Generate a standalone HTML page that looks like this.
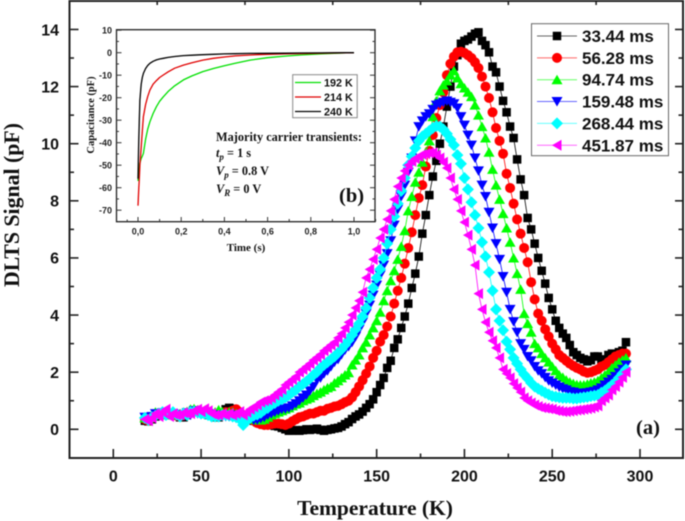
<!DOCTYPE html>
<html>
<head>
<meta charset="utf-8">
<title>DLTS Signal chart</title>
<style>
html,body{margin:0;padding:0;background:#fff;width:685px;height:521px;overflow:hidden}
svg{display:block;filter:blur(0.4px)}
.tick{font:bold 16px "Liberation Sans",sans-serif;fill:#111}
.itick{font:bold 9px "Liberation Sans",sans-serif;fill:#222}
.serif{font-family:"Liberation Serif",serif;font-weight:bold;fill:#111}
.leg{font:bold 17px "Liberation Sans",sans-serif;fill:#111}
.ileg{font:bold 10.8px "Liberation Sans",sans-serif;fill:#111}
</style>
</head>
<body>
<svg id="chart" xmlns="http://www.w3.org/2000/svg" width="685" height="521" viewBox="0 0 685 521">
  <g id="series-layer"></g>
  <rect x="69.5" y="1" width="613.5" height="457" fill="none" stroke="#222" stroke-width="2"/>
  <g id="axes-layer"></g>
  <text class="serif" font-size="21.8" transform="translate(19,205) rotate(-90)" text-anchor="middle">DLTS Signal (pF)</text>
  <text class="serif" font-size="21.5" x="375" y="515" text-anchor="middle">Temperature (K)</text>
  <text class="serif" font-size="20.5" x="636" y="434">(a)</text>

  <g id="legend">
    <rect x="531.5" y="23.7" width="137" height="132" fill="#fff" stroke="#666" stroke-width="1"/>
  </g>

  <g id="inset">
    <rect x="116.5" y="29.7" width="258.5" height="192" fill="none" stroke="#222" stroke-width="1.3"/>
    <g id="inset-axes"></g>
    <g id="inset-lines"></g>
    <text class="serif" font-size="10.5" transform="translate(94,115) rotate(-90)" text-anchor="middle" fill="#222">Capacitance (pF)</text>
    <text class="serif" font-size="11" x="246" y="251" text-anchor="middle">Time (s)</text>
    <rect x="292.7" y="74.7" width="64.5" height="43" fill="#fff" stroke="#888" stroke-width="1"/>
    <g id="inset-legend"></g>
    <text class="serif" font-size="12.3" x="216" y="141">Majority carrier transients:</text>
    <text class="serif" font-size="12.3" x="216" y="157"><tspan font-style="italic">t</tspan><tspan font-style="italic" font-size="9" dy="3">p</tspan><tspan dy="-3"> = 1 s</tspan></text>
    <text class="serif" font-size="12.3" x="216" y="175"><tspan font-style="italic">V</tspan><tspan font-style="italic" font-size="9" dy="3">p</tspan><tspan dy="-3"> = 0.8 V</tspan></text>
    <text class="serif" font-size="12.3" x="216" y="193"><tspan font-style="italic">V</tspan><tspan font-style="italic" font-size="9" dy="3">R</tspan><tspan dy="-3"> = 0 V</tspan></text>
    <text class="serif" font-size="20.5" x="339" y="202">(b)</text>
  </g>
</svg>
<script>
const temperatures = [
18,20,22,24,26,28,30,32,34,36,
38,40,42,44,46,48,50,52,54,56,
58,60,62,64,66,68,70,72,74,76,
78,80,82,84,86,88,90,92,94,96,
98,100,102,104,106,108,110,112,114,116,
118,120,122,124,126,128,130,132,134,136,
138,140,142,144,146,148,150,152,154,156,
158,160,162,164,166,168,170,172,174,176,
178,180,182,184,186,188,190,192,194,196,
198,200,202,204,206,208,210,212,214,216,
218,220,222,224,226,228,230,232,234,236,
238,240,242,244,246,248,250,252,254,256,
258,260,262,264,266,268,270,272,274,276,
278,280,282,284,286,288,290,292];

const signal33 = [
.3,.28,.35,.45,.5,.52,.55,.5,.52,.5,
.42,.42,.5,.58,.6,.62,.6,.55,.5,.48,
.42,.42,.55,.7,.75,.72,.62,.55,.45,.42,
.38,.3,.25,.2,.2,.15,.15,.12,.1,.05,
0,-.05,-.05,-.03,-.05,-.03,0,-.02,0,.02,
-.02,-.05,-.02,0,.03,.05,.1,.18,.25,.36,
.45,.52,.62,.75,.88,1.05,1.3,1.55,1.8,2.15,
2.4,2.85,3.15,3.55,3.95,4.4,4.95,5.45,6.05,6.85,
7.5,8.2,8.85,9.4,10,10.6,11.3,12,12.7,13.1,
13.5,13.6,13.65,13.75,13.85,13.9,13.6,13.45,13.2,12.7,
12.5,12,11.5,11.1,10.6,10.2,9.45,8.75,8.2,7.4,
7,6.5,6,5.55,5.1,4.6,4.2,3.8,3.55,3.35,
3.2,2.95,2.7,2.6,2.5,2.45,2.38,2.42,2.55,2.55,
2.45,2.4,2.6,2.65,2.6,2.7,2.75,3.05];

const signal56 = [
.35,.3,.4,.5,.52,.55,.5,.55,.5,.48,
.45,.5,.55,.58,.65,.62,.6,.55,.55,.5,
.48,.5,.55,.6,.6,.65,.7,.6,.5,.45,
.38,.3,.22,.18,.15,.15,.18,.2,.2,.18,
.15,.2,.28,.35,.42,.45,.5,.55,.55,.6,
.65,.65,.72,.75,.8,.82,.88,.95,1,1.12,
1.3,1.5,1.72,1.95,2.2,2.5,2.75,3.07,3.3,3.6,
3.95,4.4,4.85,5.3,5.8,6.35,6.9,7.5,8.1,8.55,
9.2,9.75,10.3,10.9,11.35,11.8,12.4,12.8,13.05,13.2,
13.22,13.18,13.1,13,12.85,12.65,12.35,12,11.6,11.1,
10.55,10.1,9.65,8.95,8.45,7.9,7.35,6.85,6.35,5.85,
5.15,4.55,4.05,3.8,3.5,3.25,3,2.8,2.6,2.5,
2.4,2.3,2.22,2.15,2.1,2.02,1.98,2,2.05,2.1,
2.2,2.25,2.35,2.45,2.55,2.6,2.65,2.65];

const signal94 = [
.4,.38,.5,.6,.55,.62,.55,.5,.6,.55,
.55,.6,.62,.7,.72,.68,.62,.6,.62,.55,
.6,.68,.62,.58,.6,.6,.55,.5,.48,.45,
.4,.35,.33,.32,.35,.42,.5,.55,.6,.65,
.7,.75,.82,.88,.92,1,1.05,1.1,1.18,1.25,
1.3,1.38,1.45,1.5,1.62,1.7,1.8,1.9,1.98,2.25,
2.42,2.6,2.85,3.05,3.3,3.55,3.8,4.1,4.5,4.85,
5.2,5.55,5.95,6.4,6.95,7.65,8.15,8.65,9,9.35,
9.7,10.1,10.95,11.5,11.85,12.05,12.2,12.4,12.55,12.3,
12.1,11.95,11.8,11.65,11.35,11,10.6,10.2,9.7,9.1,
8.55,8.05,7.55,7.05,6.55,6,5.45,4.9,4.05,3.7,
3.4,3,2.85,2.65,2.5,2.35,2.2,2.05,1.9,1.82,
1.72,1.65,1.6,1.56,1.55,1.55,1.58,1.62,1.65,1.7,
1.8,1.9,2,2.15,2.25,2.35,2.42,2.5];

const signal159 = [
.42,.35,.45,.55,.5,.58,.55,.5,.55,.52,
.5,.52,.58,.5,.65,.55,.6,.55,.55,.5,
.45,.5,.48,.45,.45,.5,.45,.45,.42,.4,
.35,.32,.33,.38,.42,.5,.55,.6,.65,.7,
.72,.75,.82,.9,1,1.1,1.2,1.35,1.5,1.73,
1.8,1.95,2.05,2.2,2.35,2.45,2.62,2.78,2.9,3.05,
3.25,3.5,3.75,4.05,4.35,4.7,5.05,5.4,5.75,6.15,
6.6,7.15,7.7,8.15,8.55,9,9.5,10.1,10.6,10.8,
10.95,11.05,11.2,11.35,11.4,11.45,11.5,11.45,11.4,11.25,
10.95,10.65,10.3,9.95,9.5,9.05,8.55,8.15,7.6,7.05,
6.5,5.95,5.35,4.8,4.2,3.77,3.4,3,2.8,2.55,
2.4,2.2,2.05,1.95,1.82,1.7,1.62,1.55,1.48,1.42,
1.38,1.32,1.3,1.27,1.27,1.27,1.28,1.3,1.33,1.38,
1.45,1.55,1.65,1.75,1.85,1.98,2.1,2.25];

const signal268 = [
.4,.32,.42,.48,.55,.6,.5,.55,.6,.52,
.45,.55,.5,.6,.62,.6,.55,.55,.5,.45,
.45,.45,.5,.5,.48,.45,.42,.35,.15,.3,
.4,.48,.52,.58,.68,.75,.85,.92,1,1.05,
1.12,1.2,1.3,1.38,1.5,1.58,1.68,1.78,1.9,2,
2.15,2.25,2.35,2.45,2.55,2.68,2.8,2.95,3.12,3.3,
3.5,3.7,3.95,4.25,4.6,4.95,5.3,5.6,6,6.5,
7,7.45,7.9,8.35,8.8,9.25,9.55,9.85,10.1,10.25,
10.35,10.45,10.55,10.62,10.6,10.5,10.35,10.15,9.95,9.6,
9.3,8.8,8.4,7.95,7.5,7.05,6.55,6.05,5.5,4.85,
4.2,3.8,3.47,3.07,2.8,2.5,2.3,2.1,1.92,1.78,
1.62,1.5,1.42,1.35,1.28,1.22,1.16,1.14,1.12,1.1,
1.1,1.1,1.08,1.08,1.1,1.12,1.13,1.16,1.18,1.2,
1.28,1.35,1.45,1.55,1.65,1.8,1.95,2.1];

const signal451 = [
.35,.3,.4,.55,.45,.6,.7,.45,.55,.5,
.5,.58,.55,.55,.65,.7,.62,.72,.65,.55,
.5,.5,.55,.5,.55,.5,.55,.62,.5,.6,
.7,.78,.85,.95,1,1.03,1.1,1.2,1.3,1.4,
1.55,1.65,1.75,1.85,2,2.1,2.2,2.3,2.42,2.52,
2.62,2.75,2.85,2.95,3.05,3.2,3.35,3.55,3.75,4,
4.25,4.5,4.8,5.3,5.6,5.95,6.3,6.7,7,7.35,
7.65,8.05,8.5,8.8,9.05,9.25,9.38,9.48,9.55,9.62,
9.65,9.68,9.68,9.6,9.5,9.35,9.15,8.8,8.4,8.05,
7.65,7.25,6.8,6.3,5.75,4.75,4.2,3.75,3.4,3.1,
2.85,2.5,2.1,1.95,1.8,1.6,1.45,1.3,1.1,1,
.92,.85,.8,.76,.74,.72,.7,.66,.64,.62,
.62,.63,.65,.67,.68,.7,.72,.74,.78,.82,
1,1.1,1.2,1.38,1.5,1.65,1.82,2];

const seriesLabels = ["33.44 ms","56.28 ms","94.74 ms","159.48 ms","268.44 ms","451.87 ms"];
const xTickLabels = [0,50,100,150,200,250,300];
const yTickLabels = [0,2,4,6,8,10,12,14];

const insetTimes = [0,.003,.006,.009,.015,.02,.025,.035,.045,.055,.07,.085,.1,.117,.14,.17,.21,.25,.3,.349,.4,.45,.519,.6,.68,.75,.85,.965,1];
const inset192 = [-57,-54,-51,-49,-47,-46,-44.7,-38.5,-34,-30.7,-27,-24,-21.6,-19.6,-17.2,-14.7,-12.1,-10.3,-8.4,-7,-5.8,-4.7,-3.3,-2.2,-1.5,-1,-.5,-.1,0];
const inset214 = [-68,-62,-56,-50,-42,-35,-28.4,-23,-19.5,-16.6,-14,-12.4,-11,-9.9,-8.5,-6.9,-5.5,-4.5,-3.3,-2.5,-1.9,-1.4,-1,-.7,-.5,-.4,-.2,-.05,0];
const inset240 = [-56,-42,-30,-21,-14,-11,-9.2,-7,-5.7,-4.7,-3.8,-3.2,-2.8,-2.5,-2.1,-1.7,-1.3,-1.1,-.9,-.7,-.55,-.45,-.3,-.25,-.2,-.15,-.1,0,0];
const insetLabels = ["192 K","214 K","240 K"];
const insetXTicks = ["0,0","0,2","0,4","0,6","0,8","1,0"];
const insetYTicks = [10,0,-10,-20,-30,-40,-50,-60,-70];

const NS = "http://www.w3.org/2000/svg";
const X = t => 113.3 + t * 1.7557;
const Y = v => 429.3 - v * 28.56;
const IX = t => 138 + t * 216;
const IY = v => 52.7 - v * 2.25;

function mk(tag, attrs, parent) {
  const e = document.createElementNS(NS, tag);
  for (const k in attrs) e.setAttribute(k, attrs[k]);
  parent.appendChild(e);
  return e;
}

function drawMarker(kind, cx, cy, s, color, parent) {
  let e;
  if (kind === "square") {
    e = mk("rect", {x: cx - s * .85, y: cy - s * .85, width: s * 1.7, height: s * 1.7, fill: color}, parent);
  } else if (kind === "circle") {
    e = mk("circle", {cx: cx, cy: cy, r: s, fill: color}, parent);
  } else if (kind === "up") {
    e = mk("polygon", {points: [cx, cy - s, cx + s * 1.1, cy + s * .9, cx - s * 1.1, cy + s * .9].join(","), fill: color}, parent);
  } else if (kind === "down") {
    e = mk("polygon", {points: [cx, cy + s, cx + s * 1.1, cy - s * .9, cx - s * 1.1, cy - s * .9].join(","), fill: color}, parent);
  } else if (kind === "diamond") {
    e = mk("polygon", {points: [cx, cy - s * 1.2, cx + s * 1.2, cy, cx, cy + s * 1.2, cx - s * 1.2, cy].join(","), fill: color}, parent);
  } else {
    e = mk("polygon", {points: [cx - s, cy, cx + s * .9, cy - s * 1.1, cx + s * .9, cy + s * 1.1].join(","), fill: color}, parent);
  }
  return e;
}

const seriesValues = [signal33, signal56, signal94, signal159, signal268, signal451];
const seriesColors = ["#000000", "#ff0000", "#00ff00", "#0000ff", "#00ffff", "#ff00ff"];
const seriesKinds = ["square", "circle", "up", "down", "diamond", "left"];

const seriesLayer = document.getElementById("series-layer");
seriesValues.forEach((vals, i) => {
  const g = mk("g", {}, seriesLayer);
  
  
  const line = mk("polyline", {
    points: vals.map((v, j) => X(temperatures[j]).toFixed(1) + "," + Y(v).toFixed(1)).join(" "),
    fill: "none", stroke: seriesColors[i], "stroke-width": "0.8"
  }, g);
  
  
  vals.forEach((v, j) => {
    const m = drawMarker(seriesKinds[i], X(temperatures[j]), Y(v), 5, seriesColors[i], g);
    
    
  });
});

const axes = document.getElementById("axes-layer");
function tick(x1, y1, x2, y2, parent, w, col) {
  const l = mk("line", {x1, y1, x2, y2, stroke: col || "#222", "stroke-width": w || 1.6}, parent);
  
  
}
for (let t = -25; t <= 325; t += 25) {
  const major = t % 50 === 0;
  if (t > -25 && t < 325) {
    tick(X(t), 458, X(t), major ? 449 : 453.5, axes);
    if (!major) tick(X(t), 1, X(t), 5, axes);
  }
}
for (let v = 0; v <= 14; v++) {
  const major = v % 2 === 0;
  tick(69.5, Y(v), major ? 78.5 : 74, Y(v), axes);
  tick(683, Y(v), major ? 675 : 678.5, Y(v), axes);
}
xTickLabels.forEach(t => {
  const e = mk("text", {x: X(t), y: 481.5, class: "tick", "text-anchor": "middle"}, axes);
  e.textContent = t;
  
  
});
yTickLabels.forEach(v => {
  const e = mk("text", {x: 59, y: Y(v) + 5.8, class: "tick", "text-anchor": "end"}, axes);
  e.textContent = v;
  
  
});

const legend = document.getElementById("legend");
seriesLabels.forEach((lab, i) => {
  const yy = 36 + i * 21.85;
  const l = mk("line", {x1: 537, y1: yy, x2: 577, y2: yy, stroke: seriesColors[i], "stroke-width": 1, opacity: .6}, legend);
  
  
  const m = drawMarker(seriesKinds[i], 557, yy, 5, seriesColors[i], legend);
  
  
  const t = mk("text", {x: 582, y: yy + 6, class: "leg"}, legend);
  t.textContent = lab;
  
  
});

const insetAxes = document.getElementById("inset-axes");
for (let i = 0; i <= 16; i++) {
  const v = 10 - i * 5;
  const major = i % 2 === 0;
  tick(116.5, IY(v), major ? 121.5 : 119, IY(v), insetAxes, 1, "#333");
  tick(375, IY(v), major ? 370 : 372.5, IY(v), insetAxes, 1, "#333");
}
for (let i = 0; i <= 11; i++) {
  const t = i / 10;
  const major = i % 2 === 0;
  tick(IX(t), 221.7, IX(t), major ? 217 : 219, insetAxes, 1, "#333");
}
tick(IX(-.05), 221.7, IX(-.05), 219.5, insetAxes, 1, "#333");
insetXTicks.forEach((lab, i) => {
  const e = mk("text", {x: IX(i * .2), y: 234.3, class: "itick", "text-anchor": "middle"}, insetAxes);
  e.textContent = lab;
  
  
});
insetYTicks.forEach(v => {
  const e = mk("text", {x: 112, y: IY(v) + 3.2, class: "itick", "text-anchor": "end"}, insetAxes);
  e.textContent = v;
  
  
});

const insetSeries = [inset192, inset214, inset240];
const insetColors = ["#00e000", "#e00000", "#000000"];
const insetLines = document.getElementById("inset-lines");
insetSeries.forEach((vals, i) => {
  const d = vals.map((v, j) => IX(insetTimes[j]).toFixed(1) + "," + IY(v).toFixed(1));
  const p = mk("polyline", {points: d.join(" "), fill: "none", stroke: insetColors[i], "stroke-width": 1.3, "stroke-linejoin": "round"}, insetLines);
  
  
});

const insetLegend = document.getElementById("inset-legend");
insetLabels.forEach((lab, i) => {
  const yy = 82.5 + i * 14.5;
  const l = mk("line", {x1: 295, y1: yy, x2: 321, y2: yy, stroke: insetColors[i], "stroke-width": 1.3}, insetLegend);
  
  
  const t = mk("text", {x: 324, y: yy + 3.8, class: "ileg"}, insetLegend);
  t.textContent = lab;
  
  
});
</script>
</body>
</html>
